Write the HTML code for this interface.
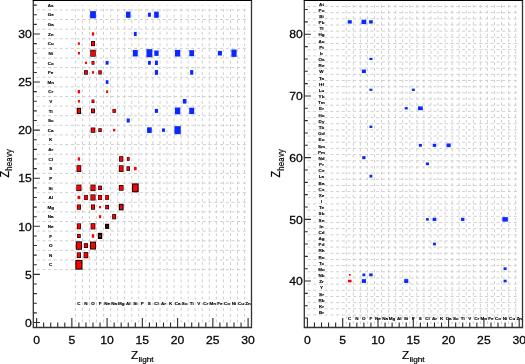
<!DOCTYPE html><html><head><meta charset="utf-8"><title>Z heavy vs Z light</title><style>html,body{margin:0;padding:0;background:#fff;width:525px;height:364px;overflow:hidden}svg{display:block}.el{font-family:"Liberation Sans",sans-serif;font-weight:bold;font-size:3.95px;text-anchor:middle;fill:#000;stroke:#000;stroke-width:0.12px}.ax{font-family:"Liberation Sans",sans-serif;font-size:11px;fill:#000}.nm{font-size:11.5px;stroke:#000;stroke-width:0.25px}.tt{stroke:#000;stroke-width:0.2px}</style></head><body>
<svg width="525" height="364" viewBox="0 0 525 364">
<rect width="525" height="364" fill="#fff"/>
<path d="M75.38 322.5V5.11M82.42 322.5V5.11M89.47 322.5V5.11M96.53 322.5V5.11M103.57 322.5V5.11M110.62 322.5V5.11M117.68 322.5V5.11M124.72 322.5V5.11M131.78 322.5V5.11M138.82 322.5V5.11M145.88 322.5V5.11M152.93 322.5V5.11M159.97 322.5V5.11M167.02 322.5V5.11M174.07 322.5V5.11M181.12 322.5V5.11M188.17 322.5V5.11M195.22 322.5V5.11M202.27 322.5V5.11M209.32 322.5V5.11M216.38 322.5V5.11M223.42 322.5V5.11M230.47 322.5V5.11M237.52 322.5V5.11M244.57 322.5V5.11" stroke="#cfcfcf" stroke-width="1" stroke-dasharray="2.9 2.855" fill="none"/>
<path d="M36.6 269.6H248.1M36.6 259.98H248.1M36.6 250.37H248.1M36.6 240.75H248.1M36.6 231.13H248.1M36.6 221.51H248.1M36.6 211.89H248.1M36.6 202.27H248.1M36.6 192.66H248.1M36.6 183.04H248.1M36.6 173.42H248.1M36.6 163.8H248.1M36.6 154.19H248.1M36.6 144.57H248.1M36.6 134.95H248.1M36.6 125.33H248.1M36.6 115.71H248.1M36.6 106.09H248.1M36.6 96.48H248.1M36.6 86.86H248.1M36.6 77.24H248.1M36.6 67.62H248.1M36.6 58H248.1M36.6 48.39H248.1M36.6 38.77H248.1M36.6 29.15H248.1M36.6 19.53H248.1M36.6 9.91H248.1" stroke="#cfcfcf" stroke-width="1" stroke-dasharray="3 2.73" fill="none"/>
<rect x="90.1" y="11.12" width="5.8" height="7.2" fill="#0a28ff"/>
<rect x="125.95" y="11.62" width="4.6" height="6.2" fill="#0a28ff"/>
<rect x="147.9" y="12.67" width="3" height="4.1" fill="#0a28ff"/>
<rect x="154.15" y="11.62" width="4.6" height="6.2" fill="#0a28ff"/>
<rect x="91.85" y="32.31" width="2.3" height="3.3" fill="#ff0000"/>
<rect x="133.9" y="31.91" width="2.8" height="4.1" fill="#0a28ff"/>
<rect x="77.85" y="42.38" width="2.1" height="2.4" fill="#ff0000"/>
<rect x="91" y="41.03" width="4" height="5.1" fill="#000"/>
<rect x="91.65" y="41.68" width="2.7" height="3.8" fill="#ff0000"/>
<rect x="77.85" y="51.95" width="2.1" height="2.5" fill="#ff0000"/>
<rect x="90.3" y="49.75" width="5.4" height="6.9" fill="#000"/>
<rect x="90.95" y="50.4" width="4.1" height="5.6" fill="#ff0000"/>
<rect x="132.85" y="49.95" width="4.9" height="6.5" fill="#0a28ff"/>
<rect x="146.45" y="49.15" width="5.9" height="8.1" fill="#0a28ff"/>
<rect x="154.3" y="50.5" width="4.3" height="5.4" fill="#0a28ff"/>
<rect x="174.95" y="49.85" width="5.3" height="6.7" fill="#0a28ff"/>
<rect x="189.3" y="50.15" width="4.8" height="6.1" fill="#0a28ff"/>
<rect x="217.85" y="50.9" width="4.1" height="4.6" fill="#0a28ff"/>
<rect x="231.4" y="49.5" width="5.2" height="7.4" fill="#0a28ff"/>
<rect x="84.9" y="61.71" width="2.1" height="2.2" fill="#ff0000"/>
<rect x="91.55" y="60.96" width="2.9" height="3.7" fill="#000"/>
<rect x="92" y="61.41" width="2" height="2.8" fill="#ff0000"/>
<rect x="105.6" y="60.96" width="3" height="3.7" fill="#0a28ff"/>
<rect x="147.95" y="60.91" width="2.9" height="3.8" fill="#0a28ff"/>
<rect x="154.95" y="60.61" width="3" height="4.4" fill="#0a28ff"/>
<rect x="84.1" y="70.18" width="3.7" height="4.5" fill="#000"/>
<rect x="84.75" y="70.83" width="2.4" height="3.2" fill="#ff0000"/>
<rect x="91.95" y="71.13" width="2.1" height="2.6" fill="#ff0000"/>
<rect x="98.35" y="70.38" width="3.4" height="4.1" fill="#000"/>
<rect x="98.8" y="70.83" width="2.5" height="3.2" fill="#ff0000"/>
<rect x="154.85" y="70.03" width="3.2" height="4.8" fill="#0a28ff"/>
<rect x="190.1" y="70.13" width="3.2" height="4.6" fill="#0a28ff"/>
<rect x="105.75" y="80.2" width="2.7" height="3.7" fill="#0a28ff"/>
<rect x="77.7" y="89.97" width="2.4" height="3.4" fill="#ff0000"/>
<rect x="106" y="90.42" width="2.2" height="2.5" fill="#ff0000"/>
<rect x="77.85" y="100.04" width="2.1" height="2.5" fill="#ff0000"/>
<rect x="91.55" y="99.59" width="2.9" height="3.4" fill="#000"/>
<rect x="92" y="100.04" width="2" height="2.5" fill="#ff0000"/>
<rect x="182.85" y="98.99" width="3.6" height="4.6" fill="#0a28ff"/>
<rect x="76.75" y="107.8" width="4.3" height="6.2" fill="#000"/>
<rect x="77.65" y="108.7" width="2.5" height="4.4" fill="#ff0000"/>
<rect x="91" y="108.55" width="4" height="4.7" fill="#000"/>
<rect x="91.65" y="109.2" width="2.7" height="3.4" fill="#ff0000"/>
<rect x="112.5" y="108.95" width="3.3" height="3.9" fill="#000"/>
<rect x="112.8" y="109.25" width="2.7" height="3.3" fill="#ff0000"/>
<rect x="154.85" y="108.9" width="3.2" height="4" fill="#0a28ff"/>
<rect x="174.9" y="107.5" width="5.4" height="6.8" fill="#0a28ff"/>
<rect x="189.2" y="107.7" width="5" height="6.4" fill="#0a28ff"/>
<rect x="126.7" y="118.52" width="3.1" height="4" fill="#0a28ff"/>
<rect x="90.7" y="127.54" width="4.6" height="5.2" fill="#000"/>
<rect x="91.35" y="128.19" width="3.3" height="3.9" fill="#ff0000"/>
<rect x="98.35" y="128.29" width="3.4" height="3.7" fill="#000"/>
<rect x="98.8" y="128.74" width="2.5" height="2.8" fill="#ff0000"/>
<rect x="113" y="128.89" width="2.3" height="2.5" fill="#ff0000"/>
<rect x="147.05" y="127.34" width="4.7" height="5.6" fill="#0a28ff"/>
<rect x="162.05" y="128.39" width="2.9" height="3.5" fill="#0a28ff"/>
<rect x="174.4" y="126.14" width="6.4" height="8" fill="#0a28ff"/>
<rect x="77.75" y="157.34" width="2.3" height="3.3" fill="#ff0000"/>
<rect x="119.1" y="156.24" width="4.2" height="5.5" fill="#000"/>
<rect x="119.75" y="156.89" width="2.9" height="4.2" fill="#ff0000"/>
<rect x="126.85" y="157.14" width="2.8" height="3.7" fill="#000"/>
<rect x="127.3" y="157.59" width="1.9" height="2.8" fill="#ff0000"/>
<rect x="76.6" y="165.21" width="4.6" height="6.8" fill="#000"/>
<rect x="77.25" y="165.86" width="3.3" height="5.5" fill="#ff0000"/>
<rect x="118.85" y="165.31" width="4.7" height="6.6" fill="#000"/>
<rect x="119.5" y="165.96" width="3.4" height="5.3" fill="#ff0000"/>
<rect x="126.5" y="166.31" width="3.5" height="4.6" fill="#000"/>
<rect x="127.15" y="166.96" width="2.2" height="3.3" fill="#ff0000"/>
<rect x="133.95" y="166.91" width="2.7" height="3.4" fill="#ff0000"/>
<rect x="76.35" y="184.6" width="5.1" height="6.5" fill="#000"/>
<rect x="77" y="185.25" width="3.8" height="5.2" fill="#ff0000"/>
<rect x="90.45" y="184.6" width="5.1" height="6.5" fill="#000"/>
<rect x="91.1" y="185.25" width="3.8" height="5.2" fill="#ff0000"/>
<rect x="98.2" y="185.65" width="3.7" height="4.4" fill="#000"/>
<rect x="98.85" y="186.3" width="2.4" height="3.1" fill="#ff0000"/>
<rect x="118.85" y="185" width="4.7" height="5.7" fill="#000"/>
<rect x="119.5" y="185.65" width="3.4" height="4.4" fill="#ff0000"/>
<rect x="131.95" y="183.4" width="6.7" height="8.9" fill="#000"/>
<rect x="132.95" y="184.4" width="4.7" height="6.9" fill="#ff0000"/>
<rect x="77.5" y="195.82" width="2.8" height="3.3" fill="#ff0000"/>
<rect x="84.05" y="195.02" width="3.8" height="4.9" fill="#000"/>
<rect x="84.45" y="195.42" width="3" height="4.1" fill="#ff0000"/>
<rect x="90.45" y="194.42" width="5.1" height="6.1" fill="#000"/>
<rect x="91.1" y="195.07" width="3.8" height="4.8" fill="#ff0000"/>
<rect x="98" y="195.02" width="4.1" height="4.9" fill="#000"/>
<rect x="98.4" y="195.42" width="3.3" height="4.1" fill="#ff0000"/>
<rect x="105.2" y="195.12" width="3.8" height="4.7" fill="#000"/>
<rect x="105.55" y="195.47" width="3.1" height="4" fill="#ff0000"/>
<rect x="76.85" y="204.48" width="4.1" height="5.2" fill="#000"/>
<rect x="77.5" y="205.13" width="2.8" height="3.9" fill="#ff0000"/>
<rect x="90.95" y="204.48" width="4.1" height="5.2" fill="#000"/>
<rect x="91.6" y="205.13" width="2.8" height="3.9" fill="#ff0000"/>
<rect x="99.1" y="205.93" width="1.9" height="2.3" fill="#ff0000"/>
<rect x="105.25" y="204.88" width="3.7" height="4.4" fill="#000"/>
<rect x="105.9" y="205.53" width="2.4" height="3.1" fill="#ff0000"/>
<rect x="118.8" y="203.83" width="4.8" height="6.5" fill="#000"/>
<rect x="119.8" y="204.83" width="2.8" height="4.5" fill="#ff0000"/>
<rect x="98.95" y="215.2" width="2.2" height="3" fill="#ff0000"/>
<rect x="112.2" y="214.1" width="3.9" height="5.2" fill="#000"/>
<rect x="112.85" y="214.75" width="2.6" height="3.9" fill="#ff0000"/>
<rect x="76.85" y="223.37" width="4.1" height="5.9" fill="#000"/>
<rect x="77.5" y="224.02" width="2.8" height="4.6" fill="#ff0000"/>
<rect x="90.65" y="223.22" width="4.7" height="6.2" fill="#000"/>
<rect x="91.3" y="223.87" width="3.4" height="4.9" fill="#ff0000"/>
<rect x="105.05" y="223.77" width="4.1" height="5.1" fill="#000"/>
<rect x="106.45" y="225.77" width="1.3" height="1.1" fill="#ff0000"/>
<rect x="77.1" y="233.89" width="3.6" height="4.1" fill="#000"/>
<rect x="77.75" y="234.54" width="2.3" height="2.8" fill="#ff0000"/>
<rect x="91.8" y="234.14" width="2.4" height="3.6" fill="#ff0000"/>
<rect x="97.85" y="232.84" width="4.4" height="6.2" fill="#000"/>
<rect x="99.25" y="234.84" width="1.6" height="2.2" fill="#ff0000"/>
<rect x="75.8" y="241.36" width="6.2" height="8.4" fill="#000"/>
<rect x="76.7" y="242.26" width="4.4" height="6.6" fill="#ff0000"/>
<rect x="83.85" y="243.16" width="4.2" height="4.8" fill="#000"/>
<rect x="84.5" y="243.81" width="2.9" height="3.5" fill="#ff0000"/>
<rect x="90" y="241.61" width="6" height="7.9" fill="#000"/>
<rect x="90.9" y="242.51" width="4.2" height="6.1" fill="#ff0000"/>
<rect x="76.8" y="252.37" width="4.2" height="5.6" fill="#000"/>
<rect x="77.45" y="253.02" width="2.9" height="4.3" fill="#ff0000"/>
<rect x="83.65" y="252.12" width="4.6" height="6.1" fill="#000"/>
<rect x="84.3" y="252.77" width="3.3" height="4.8" fill="#ff0000"/>
<rect x="75.35" y="259.94" width="7.1" height="9.7" fill="#000"/>
<rect x="76.35" y="260.94" width="5.1" height="7.7" fill="#ff0000"/>
<g class="el" transform="scale(1.15,1)">
<text x="44.09" y="266.49">C</text>
<text x="44.09" y="256.87">N</text>
<text x="44.09" y="247.26">O</text>
<text x="44.09" y="237.64">F</text>
<text x="44.09" y="228.02">Ne</text>
<text x="44.09" y="218.4">Na</text>
<text x="44.09" y="208.78">Mg</text>
<text x="44.09" y="199.17">Al</text>
<text x="44.09" y="189.55">Si</text>
<text x="44.09" y="179.93">P</text>
<text x="44.09" y="170.31">S</text>
<text x="44.09" y="160.69">Cl</text>
<text x="44.09" y="151.08">Ar</text>
<text x="44.09" y="141.46">K</text>
<text x="44.09" y="131.84">Ca</text>
<text x="44.09" y="122.22">Sc</text>
<text x="44.09" y="112.6">Ti</text>
<text x="44.09" y="102.99">V</text>
<text x="44.09" y="93.37">Cr</text>
<text x="44.09" y="83.75">Mn</text>
<text x="44.09" y="74.13">Fe</text>
<text x="44.09" y="64.51">Co</text>
<text x="44.09" y="54.9">Ni</text>
<text x="44.09" y="45.28">Cu</text>
<text x="44.09" y="35.66">Zn</text>
<text x="44.09" y="26.04">Ga</text>
<text x="44.09" y="16.42">Ge</text>
<text x="44.09" y="6.81">As</text>
<text x="68.61" y="305.16">C</text>
<text x="74.74" y="305.16">N</text>
<text x="80.87" y="305.16">O</text>
<text x="87" y="305.16">F</text>
<text x="93.13" y="305.16">Ne</text>
<text x="99.26" y="305.16">Na</text>
<text x="105.39" y="305.16">Mg</text>
<text x="111.52" y="305.16">Al</text>
<text x="117.65" y="305.16">Si</text>
<text x="123.78" y="305.16">P</text>
<text x="129.91" y="305.16">S</text>
<text x="136.04" y="305.16">Cl</text>
<text x="142.17" y="305.16">Ar</text>
<text x="148.3" y="305.16">K</text>
<text x="154.43" y="305.16">Ca</text>
<text x="160.57" y="305.16">Sc</text>
<text x="166.7" y="305.16">Ti</text>
<text x="172.83" y="305.16">V</text>
<text x="178.96" y="305.16">Cr</text>
<text x="185.09" y="305.16">Mn</text>
<text x="191.22" y="305.16">Fe</text>
<text x="197.35" y="305.16">Co</text>
<text x="203.48" y="305.16">Ni</text>
<text x="209.61" y="305.16">Cu</text>
<text x="215.74" y="305.16">Zn</text>
</g>
<path d="M36.6 327.5V318M71.85 327.5V318M107.1 327.5V318M142.35 327.5V318M177.6 327.5V318M212.85 327.5V318M248.1 327.5V318M43.65 327.5V322.5M50.7 327.5V322.5M57.75 327.5V322.5M64.8 327.5V322.5M78.9 327.5V322.5M85.95 327.5V322.5M93 327.5V322.5M100.05 327.5V322.5M114.15 327.5V322.5M121.2 327.5V322.5M128.25 327.5V322.5M135.3 327.5V322.5M149.4 327.5V322.5M156.45 327.5V322.5M163.5 327.5V322.5M170.55 327.5V322.5M184.65 327.5V322.5M191.7 327.5V322.5M198.75 327.5V322.5M205.8 327.5V322.5M219.9 327.5V322.5M226.95 327.5V322.5M234 327.5V322.5M241.05 327.5V322.5M33.3 322.5H39.9M33.3 274.41H39.9M33.3 226.32H39.9M33.3 178.23H39.9M33.3 130.14H39.9M33.3 82.05H39.9M33.3 33.96H39.9M33.3 312.88H36.8M33.3 303.26H36.8M33.3 293.65H36.8M33.3 284.03H36.8M33.3 264.79H36.8M33.3 255.17H36.8M33.3 245.56H36.8M33.3 235.94H36.8M33.3 216.7H36.8M33.3 207.08H36.8M33.3 197.47H36.8M33.3 187.85H36.8M33.3 168.61H36.8M33.3 158.99H36.8M33.3 149.38H36.8M33.3 139.76H36.8M33.3 120.52H36.8M33.3 110.9H36.8M33.3 101.29H36.8M33.3 91.67H36.8M33.3 72.43H36.8M33.3 62.81H36.8M33.3 53.2H36.8M33.3 43.58H36.8M33.3 24.34H36.8M33.3 14.72H36.8M33.3 5.11H36.8" stroke="#2a2a2a" stroke-width="1.1" fill="none"/>
<path d="M33.3 0.5V327.5H251.5V0.5" fill="none" stroke="#333" stroke-width="1.3"/>
<path d="M32.7 0.5H252.1" fill="none" stroke="#000" stroke-width="1.2"/>
<g class="ax nm">
<text transform="translate(31.9,326.7) scale(1.06,1)" text-anchor="end">0</text>
<text transform="translate(31.9,278.61) scale(1.06,1)" text-anchor="end">5</text>
<text transform="translate(31.9,230.52) scale(1.06,1)" text-anchor="end">10</text>
<text transform="translate(31.9,182.43) scale(1.06,1)" text-anchor="end">15</text>
<text transform="translate(31.9,134.34) scale(1.06,1)" text-anchor="end">20</text>
<text transform="translate(31.9,86.25) scale(1.06,1)" text-anchor="end">25</text>
<text transform="translate(31.9,38.16) scale(1.06,1)" text-anchor="end">30</text>
<text transform="translate(36.6,344) scale(1.06,1)" text-anchor="middle">0</text>
<text transform="translate(71.85,344) scale(1.06,1)" text-anchor="middle">5</text>
<text transform="translate(107.1,344) scale(1.06,1)" text-anchor="middle">10</text>
<text transform="translate(142.35,344) scale(1.06,1)" text-anchor="middle">15</text>
<text transform="translate(177.6,344) scale(1.06,1)" text-anchor="middle">20</text>
<text transform="translate(212.85,344) scale(1.06,1)" text-anchor="middle">25</text>
<text transform="translate(248.1,344) scale(1.06,1)" text-anchor="middle">30</text>
</g>
<text class="ax tt" transform="translate(131,358.8) scale(1.07,1)">Z<tspan dx="0.3" dy="3.4" style="font-size:7.7px">light</tspan></text>
<text class="ax tt" transform="translate(8.5,177.5) rotate(-90) scale(1,1.1)">Z<tspan dy="3.4" style="font-size:7.7px;letter-spacing:0.3px">heavy</tspan></text>
<path d="M346.23 324.24V3.4M353.29 324.24V3.4M360.35 324.24V3.4M367.41 324.24V3.4M374.47 324.24V3.4M381.53 324.24V3.4M388.59 324.24V3.4M395.65 324.24V3.4M402.71 324.24V3.4M409.77 324.24V3.4M416.83 324.24V3.4M423.89 324.24V3.4M430.95 324.24V3.4M438.01 324.24V3.4M445.07 324.24V3.4M452.13 324.24V3.4M459.19 324.24V3.4M466.25 324.24V3.4M473.31 324.24V3.4M480.37 324.24V3.4M487.43 324.24V3.4M494.49 324.24V3.4M501.55 324.24V3.4M508.61 324.24V3.4M515.67 324.24V3.4" stroke="#cfcfcf" stroke-width="1" stroke-dasharray="2.9 2.855" fill="none"/>
<path d="M307.4 314.99H519.2M307.4 308.81H519.2M307.4 302.64H519.2M307.4 296.48H519.2M307.4 290.31H519.2M307.4 284.13H519.2M307.4 277.97H519.2M307.4 271.8H519.2M307.4 265.62H519.2M307.4 259.46H519.2M307.4 253.29H519.2M307.4 247.12H519.2M307.4 240.95H519.2M307.4 234.78H519.2M307.4 228.61H519.2M307.4 222.44H519.2M307.4 216.27H519.2M307.4 210.1H519.2M307.4 203.93H519.2M307.4 197.75H519.2M307.4 191.59H519.2M307.4 185.42H519.2M307.4 179.25H519.2M307.4 173.08H519.2M307.4 166.91H519.2M307.4 160.74H519.2M307.4 154.56H519.2M307.4 148.4H519.2M307.4 142.23H519.2M307.4 136.06H519.2M307.4 129.89H519.2M307.4 123.72H519.2M307.4 117.55H519.2M307.4 111.38H519.2M307.4 105.21H519.2M307.4 99.04H519.2M307.4 92.87H519.2M307.4 86.7H519.2M307.4 80.53H519.2M307.4 74.36H519.2M307.4 68.19H519.2M307.4 62.02H519.2M307.4 55.85H519.2M307.4 49.68H519.2M307.4 43.51H519.2M307.4 37.34H519.2M307.4 31.17H519.2M307.4 25H519.2M307.4 18.82H519.2M307.4 12.66H519.2M307.4 6.49H519.2" stroke="#cfcfcf" stroke-width="1" stroke-dasharray="3 2.73" fill="none"/>
<rect x="347.76" y="20.21" width="4" height="3.4" fill="#0a28ff"/>
<rect x="361.48" y="19.71" width="4.8" height="4.4" fill="#0a28ff"/>
<rect x="369.09" y="20.26" width="3.7" height="3.3" fill="#0a28ff"/>
<rect x="369.39" y="57.83" width="3.1" height="2.2" fill="#0a28ff"/>
<rect x="361.83" y="69.52" width="4.1" height="3.5" fill="#0a28ff"/>
<rect x="369.39" y="88.73" width="3.1" height="2.1" fill="#0a28ff"/>
<rect x="411.8" y="88.63" width="3" height="2.3" fill="#0a28ff"/>
<rect x="404.74" y="107.09" width="3" height="2.4" fill="#0a28ff"/>
<rect x="417.91" y="106.39" width="4.9" height="3.8" fill="#0a28ff"/>
<rect x="369.54" y="125.6" width="2.8" height="2.4" fill="#0a28ff"/>
<rect x="418.81" y="143.91" width="3.1" height="2.8" fill="#0a28ff"/>
<rect x="432.73" y="143.76" width="3.5" height="3.1" fill="#0a28ff"/>
<rect x="446.5" y="143.46" width="4.2" height="3.7" fill="#0a28ff"/>
<rect x="362.23" y="156.15" width="3.3" height="3" fill="#0a28ff"/>
<rect x="425.87" y="162.47" width="3.1" height="2.7" fill="#0a28ff"/>
<rect x="369.54" y="174.76" width="2.8" height="2.8" fill="#0a28ff"/>
<rect x="426.02" y="218.1" width="2.8" height="2.5" fill="#0a28ff"/>
<rect x="432.68" y="217.7" width="3.6" height="3.3" fill="#0a28ff"/>
<rect x="461.02" y="217.8" width="3.4" height="3.1" fill="#0a28ff"/>
<rect x="502.33" y="217.1" width="5.5" height="4.5" fill="#0a28ff"/>
<rect x="433.03" y="242.68" width="2.9" height="2.7" fill="#0a28ff"/>
<rect x="503.53" y="267.36" width="3.1" height="2.7" fill="#0a28ff"/>
<rect x="348.96" y="273.93" width="1.6" height="1.9" fill="#ff0000"/>
<rect x="362.43" y="273.53" width="2.9" height="2.7" fill="#0a28ff"/>
<rect x="369.24" y="273.43" width="3.4" height="2.9" fill="#0a28ff"/>
<rect x="347.96" y="279.75" width="3.6" height="2.6" fill="#ff0000"/>
<rect x="361.78" y="279.15" width="4.2" height="3.8" fill="#0a28ff"/>
<rect x="404.19" y="279.1" width="4.1" height="3.9" fill="#0a28ff"/>
<rect x="503.53" y="279.7" width="3.1" height="2.7" fill="#0a28ff"/>
<g class="el" transform="scale(1.15,1)">
<text x="279.58" y="314.1">Br</text>
<text x="279.58" y="307.93">Kr</text>
<text x="279.58" y="301.76">Rb</text>
<text x="279.58" y="295.59">Sr</text>
<text x="279.58" y="289.42">Y</text>
<text x="279.58" y="283.25">Zr</text>
<text x="279.58" y="277.08">Nb</text>
<text x="279.58" y="270.91">Mo</text>
<text x="279.58" y="264.74">Tc</text>
<text x="279.58" y="258.57">Ru</text>
<text x="279.58" y="252.4">Rh</text>
<text x="279.58" y="246.23">Pd</text>
<text x="279.58" y="240.06">Ag</text>
<text x="279.58" y="233.89">Cd</text>
<text x="279.58" y="227.72">In</text>
<text x="279.58" y="221.55">Sn</text>
<text x="279.58" y="215.38">Sb</text>
<text x="279.58" y="209.21">Te</text>
<text x="279.58" y="203.04">I</text>
<text x="279.58" y="196.87">Xe</text>
<text x="279.58" y="190.7">Cs</text>
<text x="279.58" y="184.53">Ba</text>
<text x="279.58" y="178.36">La</text>
<text x="279.58" y="172.19">Ce</text>
<text x="279.58" y="166.02">Pr</text>
<text x="279.58" y="159.85">Nd</text>
<text x="279.58" y="153.68">Pm</text>
<text x="279.58" y="147.51">Sm</text>
<text x="279.58" y="141.34">Eu</text>
<text x="279.58" y="135.17">Gd</text>
<text x="279.58" y="129">Tb</text>
<text x="279.58" y="122.83">Dy</text>
<text x="279.58" y="116.66">Ho</text>
<text x="279.58" y="110.49">Er</text>
<text x="279.58" y="104.32">Tm</text>
<text x="279.58" y="98.15">Yb</text>
<text x="279.58" y="91.98">Lu</text>
<text x="279.58" y="85.81">Hf</text>
<text x="279.58" y="79.64">Ta</text>
<text x="279.58" y="73.47">W</text>
<text x="279.58" y="67.3">Re</text>
<text x="279.58" y="61.13">Os</text>
<text x="279.58" y="54.96">Ir</text>
<text x="279.58" y="48.79">Pt</text>
<text x="279.58" y="42.62">Au</text>
<text x="279.58" y="36.45">Hg</text>
<text x="279.58" y="30.28">Tl</text>
<text x="279.58" y="24.11">Pb</text>
<text x="279.58" y="17.94">Bi</text>
<text x="279.58" y="11.77">Po</text>
<text x="279.58" y="5.6">At</text>
<text x="304.14" y="319.57">C</text>
<text x="310.28" y="319.57">N</text>
<text x="316.42" y="319.57">O</text>
<text x="322.56" y="319.57">F</text>
<text x="328.7" y="319.57">Ne</text>
<text x="334.83" y="319.57">Na</text>
<text x="340.97" y="319.57">Mg</text>
<text x="347.11" y="319.57">Al</text>
<text x="353.25" y="319.57">Si</text>
<text x="359.39" y="319.57">P</text>
<text x="365.53" y="319.57">S</text>
<text x="371.67" y="319.57">Cl</text>
<text x="377.81" y="319.57">Ar</text>
<text x="383.95" y="319.57">K</text>
<text x="390.09" y="319.57">Ca</text>
<text x="396.23" y="319.57">Sc</text>
<text x="402.37" y="319.57">Ti</text>
<text x="408.5" y="319.57">V</text>
<text x="414.64" y="319.57">Cr</text>
<text x="420.78" y="319.57">Mn</text>
<text x="426.92" y="319.57">Fe</text>
<text x="433.06" y="319.57">Co</text>
<text x="439.2" y="319.57">Ni</text>
<text x="445.34" y="319.57">Cu</text>
<text x="451.48" y="319.57">Zn</text>
</g>
<path d="M307.4 327.5V318M342.7 327.5V318M378 327.5V318M413.3 327.5V318M448.6 327.5V318M483.9 327.5V318M519.2 327.5V318M314.46 327.5V322.5M321.52 327.5V322.5M328.58 327.5V322.5M335.64 327.5V322.5M349.76 327.5V322.5M356.82 327.5V322.5M363.88 327.5V322.5M370.94 327.5V322.5M385.06 327.5V322.5M392.12 327.5V322.5M399.18 327.5V322.5M406.24 327.5V322.5M420.36 327.5V322.5M427.42 327.5V322.5M434.48 327.5V322.5M441.54 327.5V322.5M455.66 327.5V322.5M462.72 327.5V322.5M469.78 327.5V322.5M476.84 327.5V322.5M490.96 327.5V322.5M498.02 327.5V322.5M505.08 327.5V322.5M512.14 327.5V322.5M304.3 281.05H310.9M304.3 219.35H310.9M304.3 157.65H310.9M304.3 95.95H310.9M304.3 34.25H310.9M304.3 318.07H307.8M304.3 305.73H307.8M304.3 293.39H307.8M304.3 268.71H307.8M304.3 256.37H307.8M304.3 244.03H307.8M304.3 231.69H307.8M304.3 207.01H307.8M304.3 194.67H307.8M304.3 182.33H307.8M304.3 169.99H307.8M304.3 145.31H307.8M304.3 132.97H307.8M304.3 120.63H307.8M304.3 108.29H307.8M304.3 83.61H307.8M304.3 71.27H307.8M304.3 58.93H307.8M304.3 46.59H307.8M304.3 21.91H307.8M304.3 9.57H307.8" stroke="#2a2a2a" stroke-width="1.1" fill="none"/>
<path d="M304.3 0.5V327.5H522.5V0.5" fill="none" stroke="#333" stroke-width="1.3"/>
<path d="M303.7 0.5H523.1" fill="none" stroke="#000" stroke-width="1.2"/>
<g class="ax nm">
<text transform="translate(302.9,285.25) scale(1.06,1)" text-anchor="end">40</text>
<text transform="translate(302.9,223.55) scale(1.06,1)" text-anchor="end">50</text>
<text transform="translate(302.9,161.85) scale(1.06,1)" text-anchor="end">60</text>
<text transform="translate(302.9,100.15) scale(1.06,1)" text-anchor="end">70</text>
<text transform="translate(302.9,38.45) scale(1.06,1)" text-anchor="end">80</text>
<text transform="translate(307.4,344) scale(1.06,1)" text-anchor="middle">0</text>
<text transform="translate(342.7,344) scale(1.06,1)" text-anchor="middle">5</text>
<text transform="translate(378,344) scale(1.06,1)" text-anchor="middle">10</text>
<text transform="translate(413.3,344) scale(1.06,1)" text-anchor="middle">15</text>
<text transform="translate(448.6,344) scale(1.06,1)" text-anchor="middle">20</text>
<text transform="translate(483.9,344) scale(1.06,1)" text-anchor="middle">25</text>
<text transform="translate(519.2,344) scale(1.06,1)" text-anchor="middle">30</text>
</g>
<text class="ax tt" transform="translate(402,358.8) scale(1.07,1)">Z<tspan dx="0.3" dy="3.4" style="font-size:7.7px">light</tspan></text>
<text class="ax tt" transform="translate(279.8,177.5) rotate(-90) scale(1,1.1)">Z<tspan dy="3.4" style="font-size:7.7px;letter-spacing:0.3px">heavy</tspan></text>
</svg></body></html>
